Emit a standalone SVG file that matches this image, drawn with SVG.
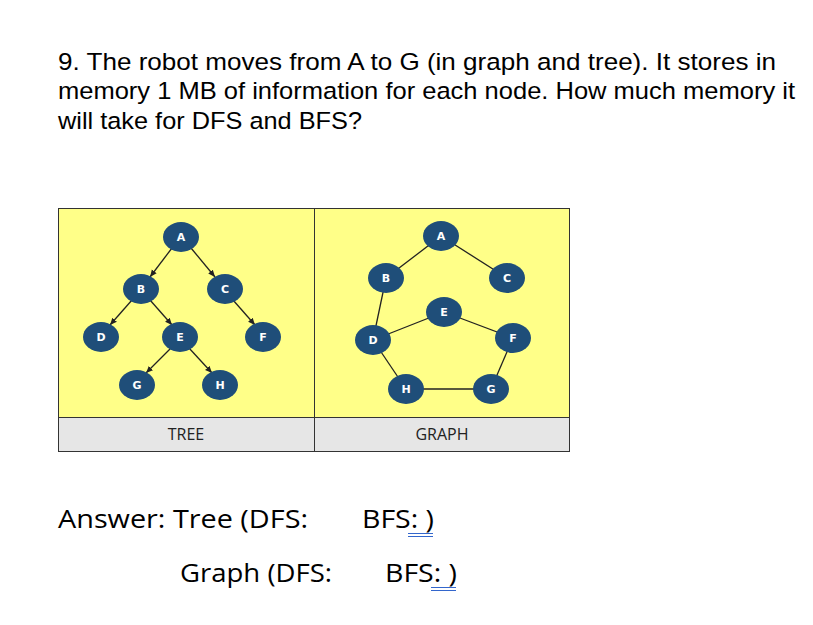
<svg xmlns="http://www.w3.org/2000/svg" width="813" height="625" viewBox="0 0 813 625">
<style>
.t{font-family:"Liberation Sans",Arial,sans-serif;font-size:24.5px;fill:#000}
.a{font-family:"Open Sans","Liberation Sans",sans-serif;font-size:25px;fill:#000}
.n ellipse{fill:#1f4e79}
.n text{font-family:"DejaVu Sans",sans-serif;font-weight:bold;font-size:11px;fill:#fff;text-anchor:middle}
.e line{stroke:#222;stroke-width:1.3}
.lb{font-family:"Open Sans","Liberation Sans",sans-serif;font-size:16px;fill:#222;text-anchor:middle}
</style>
<defs><marker id="ar" markerWidth="8" markerHeight="8" refX="7" refY="4" orient="auto" markerUnits="userSpaceOnUse"><path d="M0,1 L7,4 L0,7 z" fill="#222"/></marker></defs>
<rect width="813" height="625" fill="#fff"/>
<text class="t" x="58" y="70" textLength="718" lengthAdjust="spacingAndGlyphs">9. The robot moves from A to G (in graph and tree). It stores in</text>
<text class="t" x="58" y="99" textLength="737" lengthAdjust="spacingAndGlyphs">memory 1 MB of information for each node. How much memory it</text>
<text class="t" x="58" y="129" textLength="304" lengthAdjust="spacingAndGlyphs">will take for DFS and BFS?</text>
<rect x="59" y="209" width="255" height="209" fill="#ffff88"/>
<rect x="315" y="209" width="255" height="209" fill="#ffff88"/>
<rect x="59" y="418" width="255" height="34" fill="#e6e6e6"/>
<rect x="315" y="418" width="255" height="34" fill="#e6e6e6"/>
<rect x="58.5" y="208.5" width="511" height="243" fill="none" stroke="#333"/>
<line x1="314.5" y1="208" x2="314.5" y2="452" stroke="#333"/>
<line x1="58" y1="417.5" x2="570" y2="417.5" stroke="#333"/>
<text class="lb" x="186" y="440">TREE</text>
<text class="lb" x="442" y="440">GRAPH</text>
<g id="connectors" class="e">
<line x1="172" y1="248" x2="150" y2="277" marker-end="url(#ar)"/>
<line x1="191" y1="248" x2="215" y2="277" marker-end="url(#ar)"/>
<line x1="132" y1="300" x2="110" y2="325" marker-end="url(#ar)"/>
<line x1="150" y1="300" x2="172" y2="325" marker-end="url(#ar)"/>
<line x1="233" y1="300" x2="255" y2="325" marker-end="url(#ar)"/>
<line x1="171" y1="348" x2="146" y2="373" marker-end="url(#ar)"/>
<line x1="189" y1="348" x2="212" y2="373" marker-end="url(#ar)"/>
<line x1="441" y1="236" x2="386" y2="278"/>
<line x1="441" y1="236" x2="507" y2="278"/>
<line x1="386" y1="278" x2="373" y2="340"/>
<line x1="373" y1="340" x2="444" y2="312"/>
<line x1="444" y1="312" x2="513" y2="338"/>
<line x1="373" y1="340" x2="406" y2="389"/>
<line x1="406" y1="389" x2="491" y2="389"/>
<line x1="513" y1="338" x2="491" y2="389"/>
</g>
<g id="tA" class="n"><ellipse cx="181" cy="237" rx="18" ry="15"/><text x="181" y="241">A</text></g>
<g id="tB" class="n"><ellipse cx="141" cy="289" rx="18" ry="15"/><text x="141" y="293">B</text></g>
<g id="tC" class="n"><ellipse cx="225" cy="289" rx="18" ry="15"/><text x="225" y="293">C</text></g>
<g id="tD" class="n"><ellipse cx="101" cy="337" rx="18" ry="15"/><text x="101" y="341">D</text></g>
<g id="tE" class="n"><ellipse cx="180" cy="337" rx="18" ry="15"/><text x="180" y="341">E</text></g>
<g id="tF" class="n"><ellipse cx="263" cy="337" rx="18" ry="15"/><text x="263" y="341">F</text></g>
<g id="tG" class="n"><ellipse cx="137" cy="385" rx="18" ry="15"/><text x="137" y="389">G</text></g>
<g id="tH" class="n"><ellipse cx="220" cy="385" rx="18" ry="15"/><text x="220" y="389">H</text></g>
<g id="gA" class="n"><ellipse cx="441" cy="236" rx="18" ry="15"/><text x="441" y="240">A</text></g>
<g id="gB" class="n"><ellipse cx="386" cy="278" rx="18" ry="15"/><text x="386" y="282">B</text></g>
<g id="gC" class="n"><ellipse cx="507" cy="278" rx="18" ry="15"/><text x="507" y="282">C</text></g>
<g id="gE" class="n"><ellipse cx="444" cy="312" rx="18" ry="15"/><text x="444" y="316">E</text></g>
<g id="gD" class="n"><ellipse cx="373" cy="340" rx="18" ry="15"/><text x="373" y="344">D</text></g>
<g id="gF" class="n"><ellipse cx="513" cy="338" rx="18" ry="15"/><text x="513" y="342">F</text></g>
<g id="gH" class="n"><ellipse cx="406" cy="389" rx="18" ry="15"/><text x="406" y="393">H</text></g>
<g id="gG" class="n"><ellipse cx="491" cy="389" rx="18" ry="15"/><text x="491" y="393">G</text></g>
<text class="a" x="58" y="528" textLength="250" lengthAdjust="spacingAndGlyphs">Answer:  Tree (DFS:</text>
<text class="a" x="362" y="528" textLength="72" lengthAdjust="spacingAndGlyphs">BFS: )</text>
<text class="a" x="180" y="582" textLength="152" lengthAdjust="spacingAndGlyphs">Graph (DFS:</text>
<text class="a" x="385" y="582" textLength="72" lengthAdjust="spacingAndGlyphs">BFS: )</text>
<g stroke="#3366cc" stroke-width="1">
<line x1="408" y1="533.5" x2="433" y2="533.5"/><line x1="408" y1="536.5" x2="433" y2="536.5"/>
<line x1="431" y1="587.5" x2="456" y2="587.5"/><line x1="431" y1="590.5" x2="456" y2="590.5"/>
</g>
</svg>
